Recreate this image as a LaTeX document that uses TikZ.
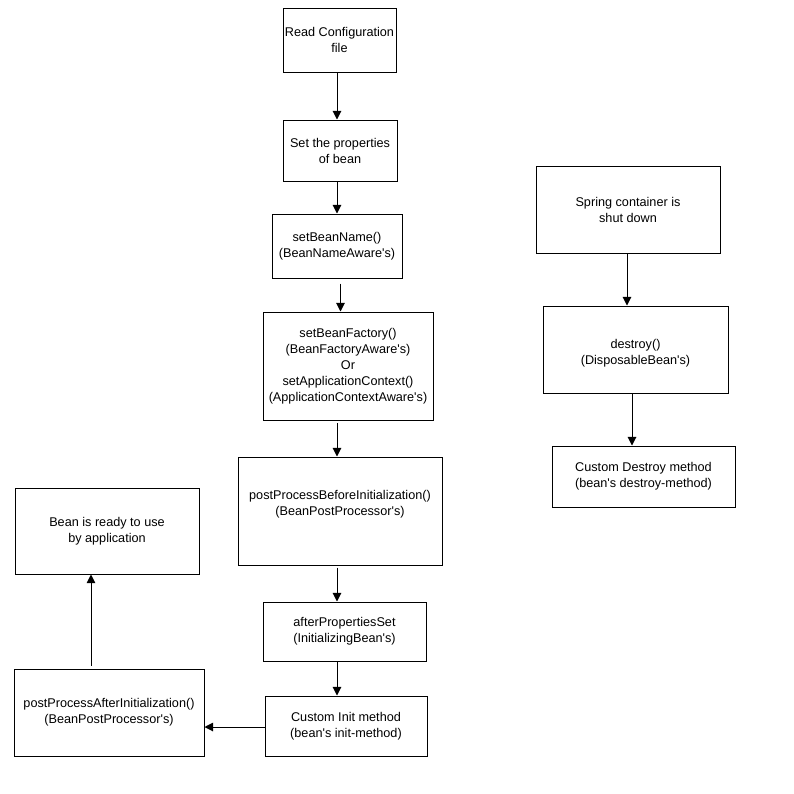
\documentclass[tikz,border=0pt]{standalone}
\usepackage{fontspec}
\setmainfont{Liberation Sans}
\usetikzlibrary{arrows.meta}
\newcommand{\apo}{\textquotesingle}
\begin{document}
\begin{tikzpicture}[x=0.75pt,y=-0.75pt,
  box/.style={draw=black,line width=0.75pt,align=center,inner sep=0pt,
    font=\fontsize{9.5pt}{12pt}\selectfont},
  arr/.style={draw=black,line width=0.75pt,-{Triangle[length=6.5pt,width=6.5pt]}}]
\useasboundingbox (0,0) rectangle (794,794);
\fill[white] (0,0) rectangle (794,794);
% left/main column
\node[box,minimum width=84.75pt,minimum height=48pt] (read) at (339.5,40) {Read Configuration\\file};
\node[box,minimum width=85.5pt,minimum height=45.75pt] (props) at (340,150.5) {Set the properties\\of bean};
\node[box,minimum width=97.5pt,minimum height=48pt] (name) at (337,246) {setBeanName()\\(BeanNameAware\apo s)};
\node[box,minimum width=127.5pt,minimum height=81pt] (factory) at (348,366) {setBeanFactory()\\(BeanFactoryAware\apo s)\\Or\\setApplicationContext()\\(ApplicationContextAware\apo s)};
\node[box,minimum width=153pt,minimum height=81pt] (before) at (340,511) {postProcessBeforeInitialization()\\(BeanPostProcessor\apo s)\\~};
\node[box,minimum width=122.25pt,minimum height=44.25pt] (after) at (344.5,631.5) {afterPropertiesSet\\(InitializingBean\apo s)};
\node[box,minimum width=121.5pt,minimum height=45pt] (init) at (346,726) {Custom Init method\\(bean\apo s init-method)};
\node[box,minimum width=142.5pt,minimum height=65.25pt] (ppafter) at (109,712.5) {postProcessAfterInitialization()\\(BeanPostProcessor\apo s)};
\node[box,minimum width=138pt,minimum height=64.5pt] (ready) at (107,531) {Bean is ready to use\\by application};
% right column
\node[box,minimum width=138pt,minimum height=65.25pt] (shut) at (628,209.5) {Spring container is\\shut down};
\node[box,minimum width=138.75pt,minimum height=65.25pt] (destroy) at (635.5,349.5) {~\\destroy()\\(DisposableBean\apo s)};
\node[box,minimum width=137.25pt,minimum height=45.75pt] (cdestroy) at (643.5,476.5) {Custom Destroy method\\(bean\apo s destroy-method)};
% connectors
\draw[arr] (337,0 |- read.south) -- (337,0 |- props.north);
\draw[arr] (337,0 |- props.south) -- (337,0 |- name.north);
\draw[arr,shorten <=3.75pt] (340.5,0 |- name.south) -- (340.5,0 |- factory.north);
\draw[arr,shorten <=2pt] (337,0 |- factory.south) -- (337,0 |- before.north);
\draw[arr,shorten <=1.5pt] (337,0 |- before.south) -- (337,0 |- after.north);
\draw[arr] (337,0 |- after.south) -- (337,0 |- init.north);
\draw[arr] (init.west |- 0,727) -- (ppafter.east |- 0,727);
\draw[arr,shorten <=2.25pt] (91,0 |- ppafter.north) -- (91,0 |- ready.south);
\draw[arr] (627,0 |- shut.south) -- (627,0 |- destroy.north);
\draw[arr] (632,0 |- destroy.south) -- (632,0 |- cdestroy.north);
\end{tikzpicture}
\end{document}
